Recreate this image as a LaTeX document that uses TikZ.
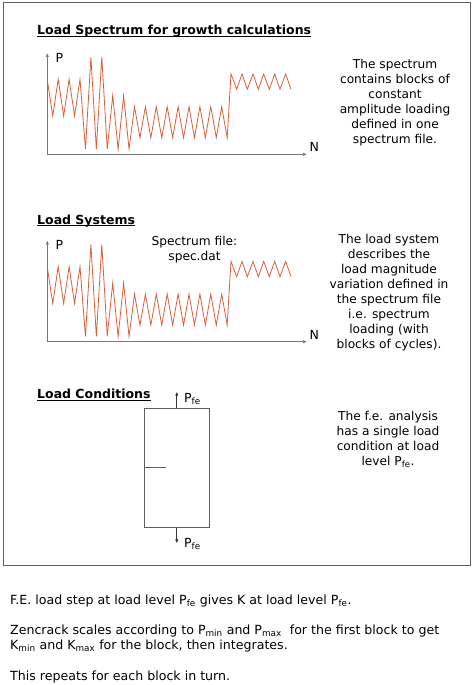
\documentclass[tikz,border=0pt]{standalone}
\usepackage{fontspec}
\setmainfont{DejaVu Sans}
\usetikzlibrary{arrows.meta}

\definecolor{spectrumred}{RGB}{214,96,58}
\definecolor{axisgray}{RGB}{120,120,120}
\definecolor{framegray}{RGB}{95,95,95}

% one load spectrum, origin at the axis corner, y upwards is negative
\newcommand{\spectrumzigzag}{(0,-74.3) -- (5.45,-38.3) -- (10.9,-75) -- (16.35,-38.3) -- (21.8,-75) -- (27.25,-38.3) -- (32.7,-75)
  -- (38.15,-5.3) -- (43.6,-97) -- (49.05,-5.3) -- (54.5,-97) -- (59.95,-5.3)
  -- (65.4,-58.6) -- (70.85,-5.3) -- (76.3,-58.6) -- (81.75,-5.3)
  -- (87.2,-47.6) -- (92.65,-16.6) -- (98.1,-47.6) -- (103.55,-16.6) -- (109,-47.6) -- (114.45,-16.6)
  -- (119.9,-47.6) -- (125.35,-16.6) -- (130.8,-47.6) -- (136.25,-16.6) -- (141.7,-47.6) -- (147.15,-16.6)
  -- (152.6,-47.6) -- (158.05,-16.6) -- (163.5,-47.6) -- (168.95,-16.6) -- (174.4,-47.6) -- (179.85,-16.6)
  -- (183.7,-80.3) -- (189.4,-65) -- (194.7,-80.3) -- (200,-65) -- (205.7,-80.3) -- (211,-65)
  -- (216.4,-80.3) -- (222,-65) -- (227.4,-80.3) -- (232.7,-65) -- (238.4,-80.3) -- (243.7,-65)}

\begin{document}
\begin{tikzpicture}[x=1pt,y=-1pt,
    spectrum/.style={draw=spectrumred, line width=0.8pt},
    axis/.style={draw=axisgray, line width=1.2pt, -{Latex[length=4pt,width=3.5pt]}},
    heading/.style={font=\fontsize{12.5}{15}\selectfont\bfseries, anchor=base west, inner sep=0pt},
    note/.style={font=\fontsize{12.2}{15}\selectfont, align=center, anchor=north, inner sep=0pt},
    bodytext/.style={font=\fontsize{12.6}{15}\selectfont, anchor=base west, inner sep=0pt},
    axislabel/.style={font=\fontsize{12.5}{14}\selectfont, anchor=base west, inner sep=0pt},
    loadlabel/.style={font=\fontsize{12.5}{14}\selectfont, anchor=base west, inner sep=0pt},
    loadarrow/.style={draw=black!80, line width=0.9pt, -{Latex[length=4pt,width=3.5pt]}}]
        \useasboundingbox (0,0) rectangle (474,685);
        \draw[framegray, line width=1pt] (3.3,2.7) rectangle (470,565);   % frame

        % load spectrum
        \node[heading] (specTitle) at (37,34.7) {Load Spectrum for growth calculations};
        \draw[line width=1.1pt] ([yshift=-1.8pt]specTitle.base west) -- ([yshift=-1.8pt]specTitle.base east);
        \begin{scope}[shift={(47.3,154.3)}]
            \coordinate (origA) at (0,0);
            \coordinate (ptopA) at (0,-101.3);
            \coordinate (nendA) at (259.7,0);
            \draw[spectrum] \spectrumzigzag;
            \draw[axis] (origA) -- (ptopA);
            \draw[axis] (origA) -- (nendA);
            \node[axislabel] (pA) at (8,-91.8) {P};
            \node[axislabel] (nA) at (262,-2.6) {N};
        \end{scope}
        \node[note] (specNote) at (395,59.2) {The spectrum\\contains blocks of\\constant\\amplitude loading\\defined in one\\spectrum file.};

        % load systems
        \node[heading] (sysTitle) at (37,224) {Load Systems};
        \draw[line width=1.1pt] ([yshift=-1.8pt]sysTitle.base west) -- ([yshift=-1.8pt]sysTitle.base east);
        \begin{scope}[shift={(47.3,341.7)}]
            \coordinate (origB) at (0,0);
            \coordinate (ptopB) at (0,-101.3);
            \coordinate (nendB) at (259.7,0);
            \draw[spectrum] \spectrumzigzag;
            \draw[axis] (origB) -- (ptopB);
            \draw[axis] (origB) -- (nendB);
            \node[axislabel] (pB) at (8,-92.6) {P};
            \node[axislabel] (nB) at (262,-2.6) {N};
        \end{scope}
        \node[note] (fileNote) at (194.5,235.9) {Spectrum file:\\spec.dat};
        \node[note] (sysNote) at (389,234.2) {The load system\\describes the\\load magnitude\\variation defined in\\the spectrum file\\i.e. spectrum\\loading (with\\blocks of cycles).};

        % load conditions
        \node[heading] (condTitle) at (37,398.3) {Load Conditions};
        \draw[line width=1.1pt] ([yshift=-1.8pt]condTitle.base west) -- ([yshift=-1.8pt]condTitle.base east);
        \node[draw=framegray, line width=1.1pt, minimum width=65pt, minimum height=119pt, inner sep=0pt] (specimen) at (176.8,467.8) {};
        \coordinate (crackTip) at (165.7,467.8);
        \draw[framegray, line width=1pt] (specimen.west) -- (crackTip);   % crack
        \coordinate (pTop) at (176.8,391.7);
        \coordinate (pBot) at (176.8,543.3);
        \draw[loadarrow] (specimen.north) -- (pTop);
        \draw[loadarrow] (specimen.south) -- (pBot);
        \node[loadlabel] (pfeTop) at (184,402.3) {P\textsubscript{fe}};
        \node[loadlabel] (pfeBot) at (184,547) {P\textsubscript{fe}};
        \node[note] (condNote) at (388,410.9) {The f.e. analysis\\has a single load\\condition at load\\level P\textsubscript{fe}.};

        % text below the frame
        \node[bodytext] (feStep) at (10,604.3) {F.E. load step at load level P\textsubscript{fe} gives K at load level P\textsubscript{fe}.};
        \node[bodytext] (scaleA) at (10,634.3) {Zencrack scales according to P\textsubscript{min} and P\textsubscript{max}\ \ for the first block to get};
        \node[bodytext] (scaleB) at (10,649.3) {K\textsubscript{min} and K\textsubscript{max} for the block, then integrates.};
        \node[bodytext] (repeatTxt) at (10,680) {This repeats for each block in turn.};

    \end{tikzpicture}
\end{document}
